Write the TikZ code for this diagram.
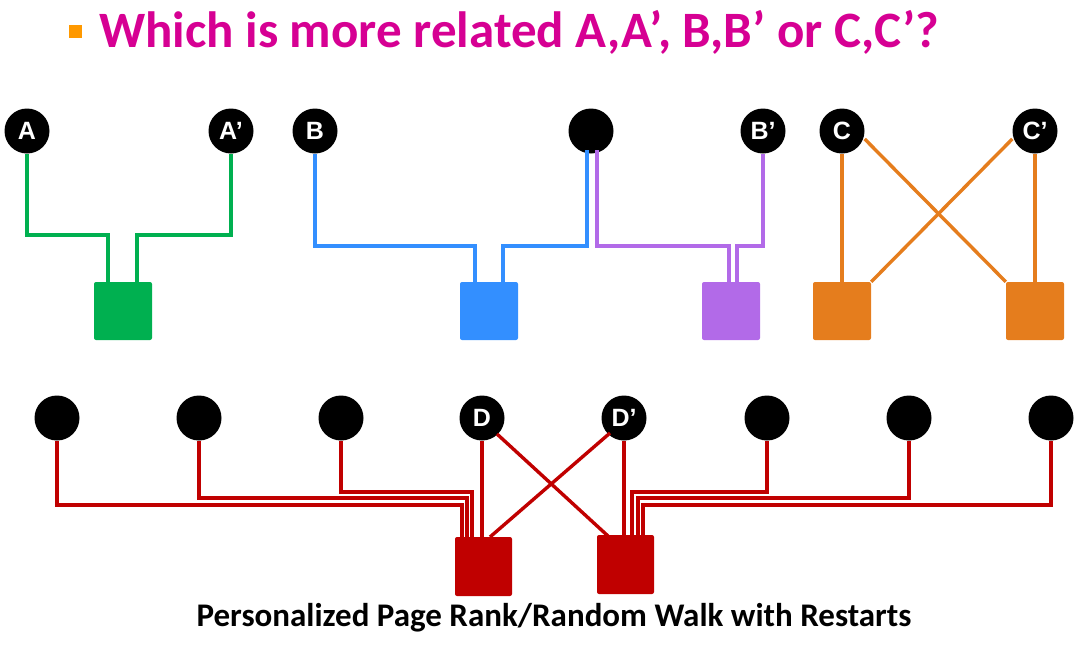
\documentclass[tikz,border=0pt]{standalone}
\usepackage{fontspec}
\setmainfont{Carlito}
\newfontfamily\lab{Liberation Sans}
\begin{document}
\begin{tikzpicture}[x=1pt,y=-1pt,
  nd/.style={circle,fill=black,minimum size=45pt,inner sep=0pt,text=white,font=\lab\bfseries\fontsize{25}{25}\selectfont},
  sq/.style={rectangle,rounded corners=2pt,minimum size=58pt,inner sep=0pt},
  wire/.style={line width=3.4pt}]
\useasboundingbox (0,0) rectangle (1082,646);
\definecolor{gr}{RGB}{0,176,80}\definecolor{bl}{RGB}{51,143,255}
\definecolor{pu}{RGB}{178,106,232}\definecolor{og}{RGB}{229,125,29}
\definecolor{rd}{RGB}{192,0,0}\definecolor{mg}{RGB}{214,0,147}
\fill[orange!80!yellow] (69,25) rectangle (82,38);
\node[anchor=west,text=mg,font=\bfseries\fontsize{51}{51}\selectfont,inner sep=0] (title) at (99,32) {Which is more related A,A’, B,B’ or C,C’?};
% top nodes
\node[nd] (A) at (27,131) {A};
\node[nd] (Ap) at (231,131) {A’};
\node[nd] (B) at (315,131) {B};
\node[nd] (X) at (591,131) {};
\node[nd] (Bp) at (763,131) {B’};
\node[nd] (C) at (842,131) {C};
\node[nd] (Cp) at (1035,131) {C’};
\node[sq,fill=gr] (sA) at (123,311) {};
\node[sq,fill=bl] (sB) at (489,311) {};
\node[sq,fill=pu] (sX) at (731,311) {};
\node[sq,fill=og] (sC1) at (842,311) {};
\node[sq,fill=og] (sC2) at (1035,311) {};
\draw[wire,gr] (A.south) -- (27,235) -- (108,235) -- (108,282);
\draw[wire,gr] (Ap.south) -- (231,235) -- (137,235) -- (137,282);
\draw[wire,bl] (B.south) -- (315,246) -- (475,246) -- (475,282);
\draw[wire,bl] (587,150) -- (587,246) -- (503,246) -- (503,282);
\draw[wire,pu] (597,150) -- (597,246) -- (729,246) -- (729,282);
\draw[wire,pu] (Bp.south) -- (763,246) -- (737,246) -- (737,282);
\draw[wire,og] (C.south) -- (sC1.north);
\draw[wire,og] (Cp.south) -- (sC2.north);
\draw[wire,og] (C.east) ++(0,8) -- (sC2.north west);
\draw[wire,og] (Cp.west) ++(0,8) -- (sC1.north east);
% bottom
\foreach \n/\x in {n1/57,n2/199,n3/341,n6/767,n7/909,n8/1051}
  \node[nd] (\n) at (\x,418) {};
\node[nd] (D) at (482,418) {D};
\node[nd] (Dp) at (624,418) {D’};
\node[sq,fill=rd,minimum width=57pt,minimum height=59pt] (s1) at (483.5,566.5) {};
\node[sq,fill=rd,minimum width=57pt,minimum height=59pt] (s2) at (625.5,564.5) {};
\begin{scope}[wire,rd]
\draw (n1.south) -- (57,505) -- (462,505) -- (462,537);
\draw (n2.south) -- (199,498) -- (467,498) -- (467,537);
\draw (n3.south) -- (341,492) -- (472,492) -- (472,537);
\draw (D.south) -- (482,537);
\draw (Dp.south) -- (624,535);
\draw (n6.south) -- (767,492) -- (632,492) -- (632,535);
\draw (n7.south) -- (909,498) -- (638,498) -- (638,535);
\draw (n8.south) -- (1051,505) -- (643,505) -- (643,535);
\draw (497,434) -- (608,536);
\draw (610,433) -- (490,537);
\end{scope}
\node[font=\bfseries\fontsize{33}{33}\selectfont,inner sep=0] (cap) at (554,618) {Personalized Page Rank/Random Walk with Restarts};
\end{tikzpicture}
\end{document}
